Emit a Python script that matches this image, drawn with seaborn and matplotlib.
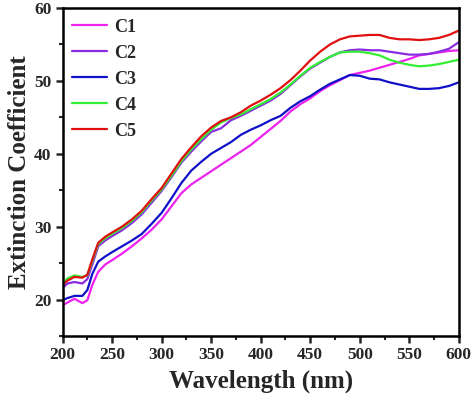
import numpy as np
import pandas as pd
import matplotlib
matplotlib.use("Agg")
import matplotlib.pyplot as plt
import seaborn as sns
from matplotlib.ticker import MultipleLocator

wavelength = [200, 205, 212, 220, 225, 230, 236, 243, 250, 260, 270, 280, 290, 300, 310,
              320, 330, 340, 350, 360, 370, 380, 390, 400, 410, 420, 430, 440, 450, 460,
              470, 480, 490, 500, 510, 520, 530, 540, 550, 560, 570, 580, 590, 600]

c1 = [19.2, 19.6, 20.1, 19.5, 19.9, 22.0, 23.8, 24.8, 25.4, 26.3, 27.3, 28.4, 29.6, 31.0, 32.8,
      34.6, 35.8, 36.7, 37.6, 38.5, 39.4, 40.3, 41.2, 42.3, 43.4, 44.5, 45.8, 46.8, 47.6, 48.6,
      49.4, 50.1, 50.8, 51.1, 51.4, 51.8, 52.2, 52.6, 53.0, 53.5, 53.7, 53.9, 54.1, 54.2]
c2 = [21.6, 22.2, 22.4, 22.2, 22.8, 24.8, 27.3, 28.1, 28.7, 29.5, 30.5, 31.7, 33.3, 34.9, 36.8,
      38.8, 40.3, 41.7, 43.0, 43.5, 44.6, 45.2, 45.9, 46.6, 47.3, 48.2, 49.4, 50.6, 51.7, 52.5,
      53.3, 53.9, 54.2, 54.3, 54.2, 54.2, 54.0, 53.8, 53.6, 53.6, 53.7, 54.0, 54.4, 55.3]
c3 = [19.9, 20.2, 20.5, 20.5, 21.3, 23.5, 25.2, 25.9, 26.5, 27.3, 28.1, 29.0, 30.4, 31.9, 33.9,
      36.0, 37.7, 38.9, 40.0, 40.8, 41.6, 42.6, 43.3, 43.9, 44.6, 45.2, 46.3, 47.2, 47.9, 48.8,
      49.6, 50.2, 50.8, 50.7, 50.3, 50.2, 49.8, 49.5, 49.2, 48.9, 48.9, 49.0, 49.3, 49.8]
c4 = [22.2, 22.9, 23.3, 23.1, 23.3, 25.3, 27.6, 28.4, 29.0, 29.8, 30.8, 32.0, 33.6, 35.1, 37.0,
      39.0, 40.6, 42.0, 43.3, 44.3, 44.9, 45.4, 46.1, 46.8, 47.5, 48.4, 49.5, 50.7, 51.8, 52.6,
      53.3, 53.9, 54.0, 54.0, 53.8, 53.5, 52.9, 52.5, 52.2, 52.0, 52.1, 52.3, 52.6, 52.9]
c5 = [22.0, 22.6, 23.1, 23.0, 23.4, 25.5, 27.8, 28.6, 29.2, 30.0, 31.0, 32.2, 33.8, 35.3, 37.3,
      39.3, 40.9, 42.4, 43.6, 44.5, 45.0, 45.7, 46.6, 47.3, 48.1, 49.0, 50.1, 51.4, 52.8, 54.0,
      55.0, 55.7, 56.1, 56.2, 56.3, 56.3, 55.9, 55.7, 55.7, 55.6, 55.7, 55.9, 56.3, 56.9]

names = ["C1", "C2", "C3", "C4", "C5"]
colors = ["#EE22EE", "#8A2BE2", "#1010C8", "#33EE33", "#E01010"]

df = pd.DataFrame({"Wavelength": wavelength, "C1": c1, "C2": c2, "C3": c3, "C4": c4, "C5": c5})
df_long = df.melt(id_vars="Wavelength", var_name="Sample", value_name="Extinction")

sns.set_style("ticks")
plt.rcParams["font.family"] = ["Liberation Serif", "DejaVu Serif"]
plt.rcParams["font.weight"] = "bold"

fig = plt.figure(figsize=(4.74, 3.99), dpi=100)
ax = fig.add_axes([0.132, 0.158, 0.836, 0.822])

sns.lineplot(data=df_long, x="Wavelength", y="Extinction", hue="Sample",
             hue_order=names, palette=colors, linewidth=1.6, ax=ax)

ax.set_xlim(200, 600)
ax.set_ylim(15, 60)
ax.xaxis.set_major_locator(MultipleLocator(50))
ax.xaxis.set_minor_locator(MultipleLocator(25))
ax.set_yticks([20, 30, 40, 50, 60])
ax.yaxis.set_minor_locator(MultipleLocator(5))

for sp in ax.spines.values():
    sp.set_linewidth(1.8)
    sp.set_color("black")
ax.tick_params(which="major", direction="out", length=5, width=1.8, labelsize=12.5, pad=3)
ax.tick_params(which="minor", direction="out", length=3, width=1.5)
for lab in ax.get_xticklabels() + ax.get_yticklabels():
    lab.set_fontweight("bold")

ax.set_xlabel("Wavelength (nm)", fontsize=18, fontweight="bold", labelpad=5)
ax.set_ylabel("Extinction Coefficient", fontsize=18, fontweight="bold", labelpad=2)

leg = ax.legend(loc="upper left", frameon=False, fontsize=13, handlelength=1.95,
                handletextpad=0.4, labelspacing=0.5, borderaxespad=0.1,
                bbox_to_anchor=(0.0, 0.995))
for t in leg.get_texts():
    t.set_fontweight("bold")

fig.savefig("out.png", dpi=100)
